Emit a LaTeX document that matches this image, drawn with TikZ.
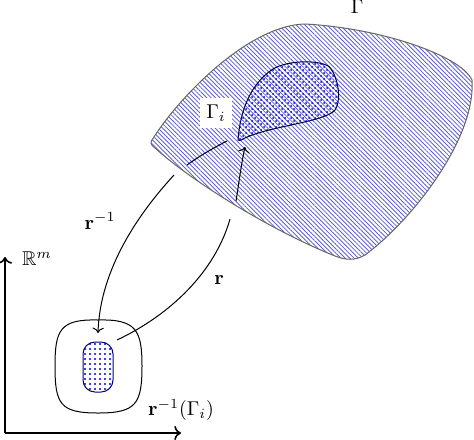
\documentclass[tikz,border=0pt]{standalone}
\usepackage{amssymb}
\usetikzlibrary{patterns,patterns.meta,arrows.meta}
\definecolor{hatchblue}{RGB}{95,95,215}
\begin{document}
\begin{tikzpicture}[x=0.5pt,y=-0.5pt,
  hatchfill/.style={pattern={Lines[angle=-45,distance=1.55pt,line width=0.42pt]},pattern color=hatchblue},
  dotfill/.style={pattern=crosshatch dots,pattern color=blue!80!black},
  smalldots/.style={pattern={Dots[distance=2.5pt,radius=0.6pt]},pattern color=blue!80!black},
  conn/.style={line width=0.5pt},
  lbl/.style={inner sep=1pt}]
\useasboundingbox (0,0) rectangle (474,439);
% big region Gamma
\filldraw[hatchfill,draw=gray!80!black,line width=0.5pt]
  (152,140) .. controls (180,95) and (250,25) .. (305,24)
  .. controls (380,28) and (460,55) .. (472,80)
  .. controls (476,140) and (410,222) .. (365,255)
  .. controls (355,261) and (345,260) .. (335,256)
  .. controls (270,230) and (190,180) .. (155,148)
  .. controls (151,145) and (150,143) .. (152,140) -- cycle;
% inner region Gamma_i
\filldraw[dotfill,draw=black!70!blue,line width=0.5pt]
  (238,140) .. controls (240,112) and (250,84) .. (273,69)
  .. controls (288,60) and (318,60) .. (328,66)
  .. controls (338,74) and (342,100) .. (335,110)
  .. controls (325,122) and (270,126) .. (245,138)
  .. controls (240,141) and (238,141) .. (238,140) -- cycle;
\node[lbl,fill=white,minimum width=16pt,minimum height=15pt] (gi) at (216,113) {$\Gamma_i$};
\node[lbl,anchor=base] (g) at (357,13) {$\Gamma$};
% lower domain
\draw[line width=0.5pt] (98,320) .. controls (136,319) and (142,330) .. (142,366)
  .. controls (142,404) and (136,413) .. (98,413)
  .. controls (60,413) and (55,404) .. (55,366)
  .. controls (55,330) and (60,319) .. (98,320) -- cycle;
\filldraw[smalldots,draw=blue!50!black,line width=0.5pt,rounded corners=6pt] (83,342) rectangle (113,392);
\coordinate (pre) at (98,333);
\coordinate (rs) at (117,340);
% arrows
\coordinate (a1) at (227,141);
\coordinate (a2) at (187,165);
\coordinate (a3) at (174,175);
\draw[conn] (a1) .. controls (213,148) and (198,157) .. (a2);
\draw[conn,->] (a3) .. controls (140,212) and (100,268) .. (pre);
\coordinate (b1) at (230,219);
\coordinate (b2) at (236,201);
\coordinate (b3) at (245,147);
\draw[conn] (rs) .. controls (170,315) and (215,272) .. (b1);
\draw[conn,->] (b2) .. controls (239,183) and (241,165) .. (b3);
% labels
\node[lbl] (rinv) at (100,221) {$\mathbf{r}^{-1}$};
\node[lbl] (r) at (219,280) {$\mathbf{r}$};
\node[lbl] (rm) at (37,259) {$\mathbb{R}^m$};
\node[lbl] (rig) at (181,410) {$\mathbf{r}^{-1}(\Gamma_i)$};
% axes
\coordinate (o) at (5,433);
\coordinate (yt) at (5,257);
\coordinate (xt) at (181,433);
\draw[line width=0.8pt,->] (o) -- (yt);
\draw[line width=0.8pt,->] (o) -- (xt);
\end{tikzpicture}
\end{document}
